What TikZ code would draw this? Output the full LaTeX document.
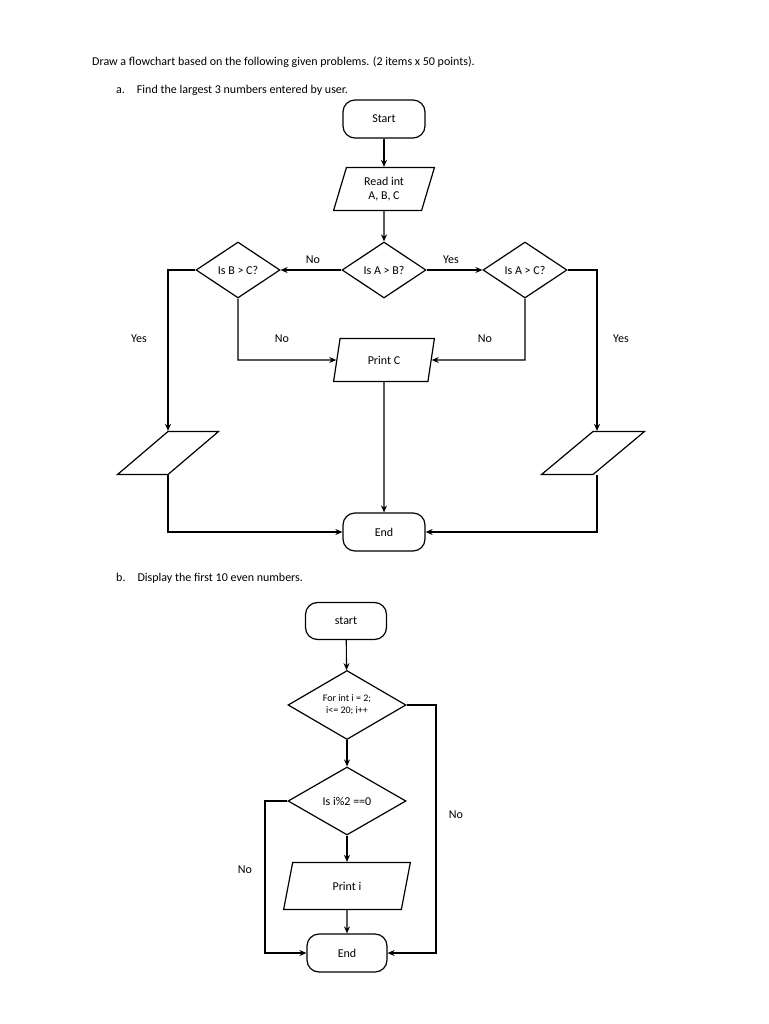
\documentclass[tikz,border=0pt]{standalone}
\usepackage{fontspec}
\setmainfont{Carlito}
\usetikzlibrary{shapes.geometric,arrows.meta}
\begin{document}
\begin{tikzpicture}[x=1pt,y=-1pt,
  every node/.style={font=\fontsize{12}{14}\selectfont},
  term/.style={draw,line width=1.2pt,rounded corners=12pt,minimum width=82pt,minimum height=38pt,inner sep=0pt},
  para/.style={draw,line width=1.2pt,trapezium,trapezium left angle=74,trapezium right angle=106,trapezium stretches=true,minimum width=101pt,minimum height=43pt,inner sep=0pt,align=center},
  dia/.style={draw,line width=1.2pt,diamond,minimum width=84pt,minimum height=56pt,inner sep=0pt,align=center},
  arr/.style={line width=1.1pt,-{Stealth[length=7pt,width=6pt]}},
  lbl/.style={inner sep=0pt}]
\useasboundingbox (0,0) rectangle (768,1024);
\node[lbl,anchor=west] (t1) at (92,62) {Draw a flowchart based on the following given problems. (2 items x 50 points).};
\node[lbl,anchor=west] (t2) at (116,90) {a.\hspace{12pt}Find the largest 3 numbers entered by user.};
\node[term] (st) at (384,119) {Start};
\node[para] (rd) at (384,189) {Read int\\A, B, C};
\node[dia] (ab) at (384,270) {Is A {>} B?};
\node[dia] (bc) at (238,270) {Is B {>} C?};
\node[dia] (ac) at (525,270) {Is A {>} C?};
\node[para] (pc) at (384,360) {Print C};
\node[para] (lp) at (168,453) {\strut};
\node[para,minimum width=103pt] (rp) at (593,453) {\strut};
\node[term] (en) at (384,532) {End};
\coordinate (c1) at (168,270);
\coordinate (c2) at (238,360);
\coordinate (c3) at (525,360);
\coordinate (c4) at (597,270);
\coordinate (c5) at (168,532);
\coordinate (c6) at (597,532);
\draw[arr] (st) -- (rd);
\draw[arr] (rd) -- (ab);
\draw[arr] (ab.west) -- (bc.east);
\draw[arr] (ab.east) -- (ac.west);
\draw[arr] (bc.west) -- (c1) -- (lp.north-|c1);
\draw[arr] (bc.south) -- (c2) -- (pc.west);
\draw[arr] (ac.south) -- (c3) -- (pc.east);
\draw[arr] (ac.east) -- (c4) -- (rp.north-|c4);
\draw[arr] (pc) -- (en);
\draw[arr] (lp.south-|c5) -- (c5) -- (en.west);
\draw[arr] (rp.south-|c6) -- (c6) -- (en.east);
\node[lbl] (n1) at (313,260) {No};
\node[lbl] (y1) at (451,260) {Yes};
\node[lbl] (y2) at (139,339) {Yes};
\node[lbl] (n2) at (282,339) {No};
\node[lbl] (n3) at (485,339) {No};
\node[lbl] (y3) at (621,339) {Yes};
\node[lbl,anchor=west] (t3) at (116,578) {b.\hspace{12pt}Display the first 10 even numbers.};
\node[term,minimum width=81pt,minimum height=37pt] (s2) at (346,621) {start};
\node[dia,minimum width=118pt,minimum height=69pt,font=\fontsize{10}{12}\selectfont] (fo) at (347,705) {For int i = 2;\\i{<}= 20; i++};
\node[dia,minimum width=118pt,minimum height=68pt] (ev) at (347,801) {Is i\%2 ==0};
\node[para,minimum width=127pt,minimum height=47pt] (pi) at (347,886) {Print i};
\node[term,minimum width=80pt,minimum height=38pt] (e2) at (347,953) {End};
\coordinate (d1) at (436,705);
\coordinate (d2) at (436,953);
\coordinate (d3) at (265,801);
\coordinate (d4) at (265,953);
\draw[arr] (s2) -- (fo);
\draw[arr] (fo) -- (ev);
\draw[arr] (ev) -- (pi);
\draw[arr] (pi) -- (e2);
\draw[arr] (fo.east) -- (d1) -- (d2) -- (e2.east);
\draw[arr] (ev.west) -- (d3) -- (d4) -- (e2.west);
\node[lbl] (n4) at (456,815) {No};
\node[lbl] (n5) at (245,870) {No};
\end{tikzpicture}
\end{document}
